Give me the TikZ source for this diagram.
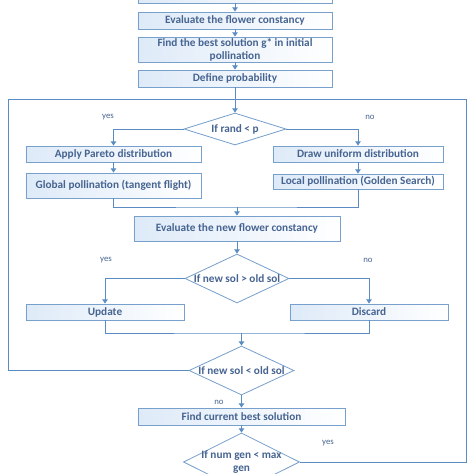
\documentclass[tikz,border=0pt]{standalone}
\usepackage{fontspec}
\setmainfont{Carlito}
\usetikzlibrary{shapes.geometric,arrows.meta}
\definecolor{boxline}{RGB}{120,160,205}
\definecolor{boxtext}{RGB}{70,100,145}
\definecolor{boxfill}{RGB}{222,234,248}
\definecolor{arrowline}{RGB}{90,140,195}
\tikzset{
  stepbox/.style={draw=boxline, line width=0.7pt, left color=boxfill, right color=white,
    text=boxtext, font=\fontsize{9.6}{11}\selectfont\bfseries, align=center, inner sep=0pt},
  decide/.style={diamond, draw=boxline, line width=0.7pt, fill=white, text=boxtext,
    font=\fontsize{9.6}{11}\selectfont\bfseries, align=center, inner ysep=0pt, inner xsep=-4pt, aspect=2},
  flow/.style={draw=arrowline, line width=0.8pt},
  arr/.style={flow, -{Triangle[length=3.5pt,width=4.5pt]}},
  answer/.style={text=boxtext, font=\fontsize{7.5}{8}\selectfont}
}
\begin{document}
\begin{tikzpicture}[x=0.03cm,y=-0.03cm]
\useasboundingbox (0,0) rectangle (474,474);
% boxes of the main column
\node[stepbox, minimum width=5.82cm, minimum height=0.51cm] (init) at (235,-5.5) {};
\node[stepbox, minimum width=5.82cm, minimum height=0.51cm] (eval) at (235,20.5) {Evaluate the flower constancy};
\node[stepbox, minimum width=5.82cm, minimum height=0.75cm] (best) at (235,49.5) {Find the best solution g* in initial\\pollination};
\node[stepbox, minimum width=5.82cm, minimum height=0.51cm] (prob) at (235,78.5) {Define probability};
\node[decide, aspect=3.2, minimum width=3.06cm, minimum height=0.96cm] (rand) at (235,129) {If rand < p};
% the two branches
\node[stepbox, minimum width=5.25cm, minimum height=0.48cm] (pareto) at (113.5,154) {Apply Pareto distribution};
\node[stepbox, minimum width=5.25cm, minimum height=0.75cm] (global) at (113.5,185.5) {Global pollination (tangent flight)};
\node[stepbox, minimum width=5.1cm, minimum height=0.48cm] (uniform) at (358,154) {Draw uniform distribution};
\node[stepbox, minimum width=5.1cm, minimum height=0.45cm] (local) at (358,181.5) {Local pollination (Golden Search)};
\node[stepbox, minimum width=6.18cm, minimum height=0.75cm] (newfl) at (237,228.5) {Evaluate the new flower constancy};
\node[decide, minimum width=3.12cm, minimum height=1.47cm] (better) at (237,278.5) {If new sol > old sol};
\node[stepbox, minimum width=4.74cm, minimum height=0.48cm] (update) at (105,312) {Update};
\node[stepbox, minimum width=4.74cm, minimum height=0.48cm] (discard) at (369,312) {Discard};
\node[decide, minimum width=3.15cm, minimum height=1.47cm] (worse) at (241.5,370.5) {If new sol < old sol};
\node[stepbox, minimum width=6.21cm, minimum height=0.51cm] (current) at (241.5,416.5) {Find current best solution};
\node[decide, minimum width=3.15cm, minimum height=1.5cm] (gen) at (241.5,462) {If num gen < max\\gen};
% joints
\coordinate (join1) at (237,207);
\coordinate (join2) at (241.5,333);
\coordinate (loopL) at (8,99);
\coordinate (loopR) at (466,99);
% connectors
\draw[arr] (init) -- (eval);
\draw[arr] (eval) -- (best);
\draw[arr] (best) -- (prob);
\draw[arr] (prob) -- (rand);
\draw[arr] (rand.west) -| (pareto.north);
\draw[arr] (rand.east) -| (uniform.north);
\draw[arr] (pareto) -- (global);
\draw[arr] (uniform) -- (local);
\draw[flow] (global.south) |- (join1) -| (local.south);
\draw[arr] (join1) -- (newfl.north);
\draw[arr] (newfl) -- (better);
\draw[arr] (better.west) -| (update.north);
\draw[arr] (better.east) -| (discard.north);
\draw[flow] (update.south) |- (join2) -| (discard.south);
\draw[arr] (join2) -- (worse.north);
\draw[flow] (worse.west) -| (loopL) -- (loopR) |- (gen.east);
\draw[arr] (worse) -- (current);
\draw[arr] (current) -- (gen);
% labels
\node[answer] (yes1) at (108,117) {yes};
\node[answer] (no1) at (370,117) {no};
\node[answer] (yes2) at (106,260) {yes};
\node[answer] (no2) at (368,260) {no};
\node[answer] (no3) at (219,402) {no};
\node[answer] (yes3) at (328,443) {yes};
\end{tikzpicture}
\end{document}
